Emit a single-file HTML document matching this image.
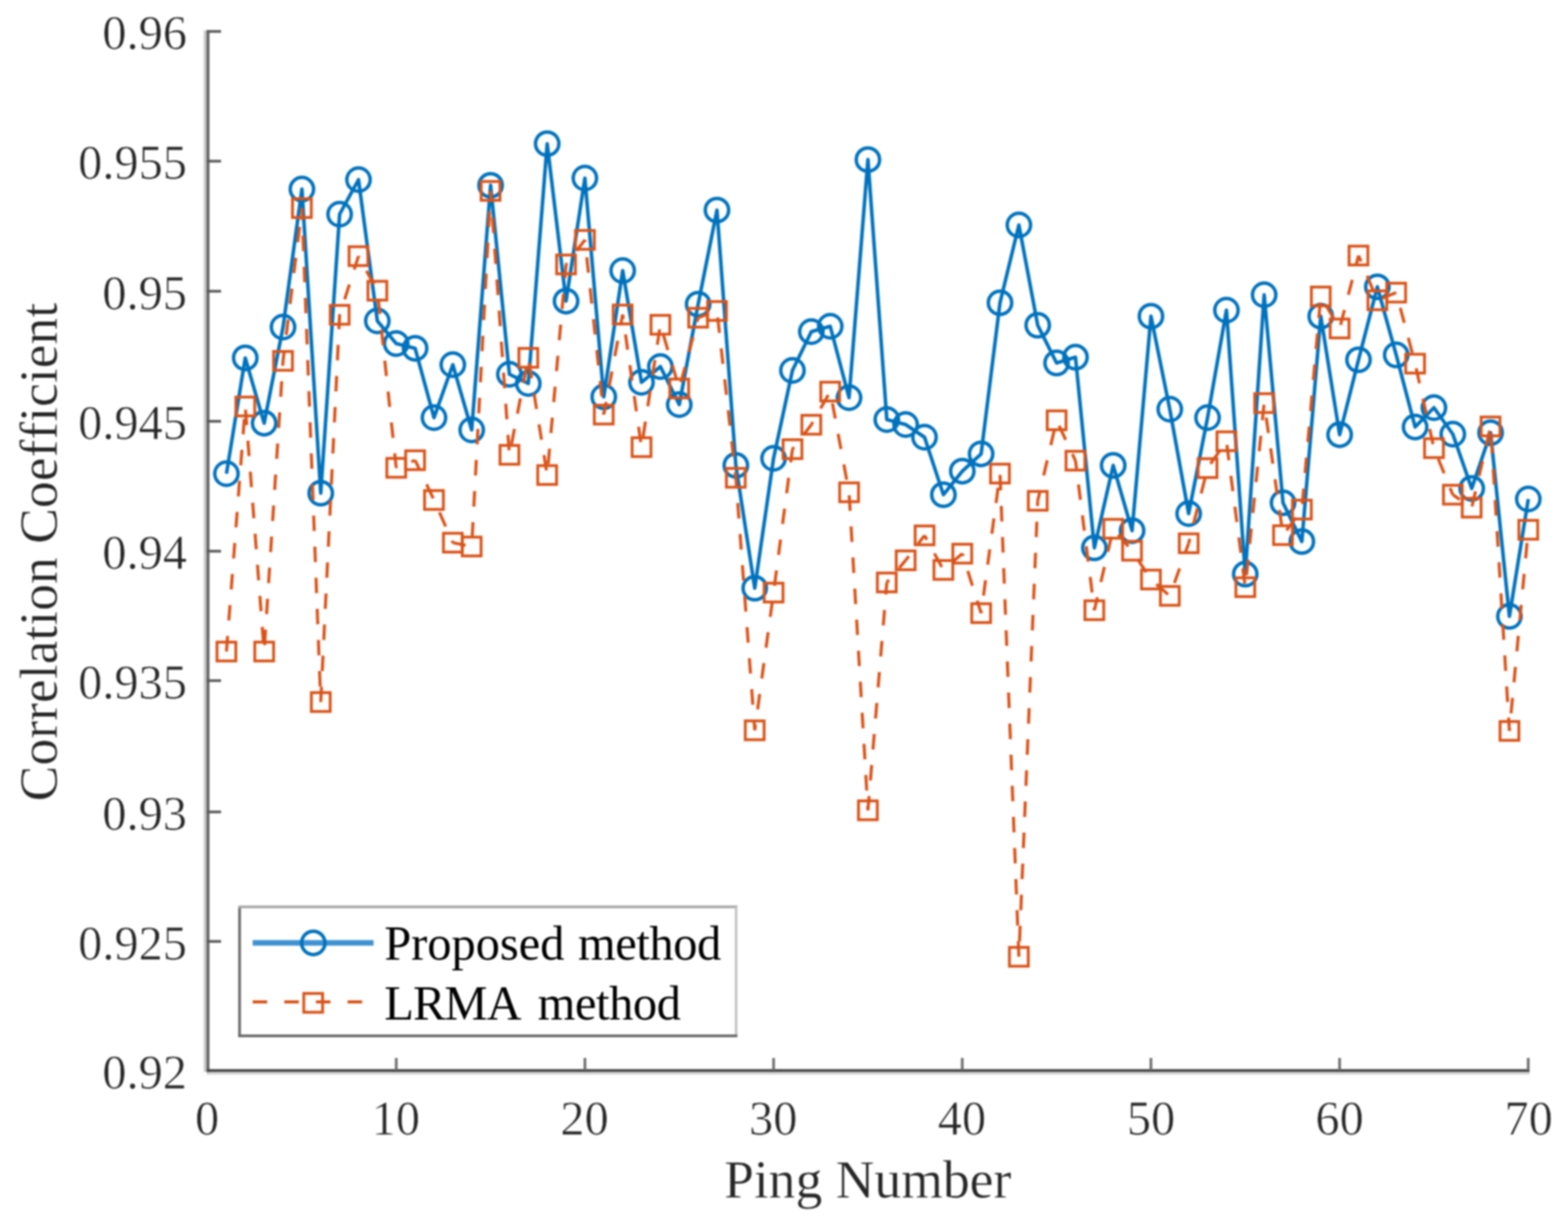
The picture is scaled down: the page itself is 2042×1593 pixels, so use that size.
<!DOCTYPE html>
<html lang="en">
<head>
<meta charset="utf-8">
<title>Correlation Coefficient vs Ping Number</title>
<style>
html,body{margin:0;padding:0;background:#fff;}
body{width:2042px;height:1593px;overflow:hidden;}
svg{display:block;filter:blur(0.9px);}
text{font-family:"Liberation Serif","DejaVu Serif",serif;font-variant-ligatures:none;font-kerning:none;}
.tick{font-size:63px;fill:#262626;stroke:#fff;stroke-width:0.7px;}
.lab{font-size:69.8px;fill:#262626;stroke:#fff;stroke-width:0.4px;}
.leg{font-size:63px;fill:#000;}
</style>
</head>
<body>
<svg width="2042" height="1593" viewBox="0 0 2042 1593">
<rect x="0" y="0" width="2042" height="1593" fill="#ffffff"/>
<g id="axes" fill="none">
<rect x="265.4" y="39.6" width="3.6" height="1356.6" fill="#c6c6c6"/>
<rect x="269" y="1396.1" width="1723" height="3.6" fill="#d3d3d3"/>
<rect x="269" y="39.6" width="3.8" height="1356.6" fill="#666666"/>
<rect x="269" y="1392.6" width="1723" height="3.6" fill="#444444"/>
<rect x="269" y="39.2" width="18.9" height="3.5" fill="#5a5a5a"/>
<rect x="269" y="208.2" width="18.9" height="3.5" fill="#5a5a5a"/>
<rect x="269" y="377.6" width="18.9" height="3.5" fill="#5a5a5a"/>
<rect x="269" y="547.0" width="18.9" height="3.5" fill="#5a5a5a"/>
<rect x="269" y="716.2" width="18.9" height="3.5" fill="#5a5a5a"/>
<rect x="269" y="884.8" width="18.9" height="3.5" fill="#5a5a5a"/>
<rect x="269" y="1055.8" width="18.9" height="3.5" fill="#5a5a5a"/>
<rect x="269" y="1224.5" width="18.9" height="3.5" fill="#5a5a5a"/>
<rect x="514.3" y="1378" width="3.5" height="16" fill="#6e6e6e"/>
<rect x="760.0" y="1378" width="3.5" height="16" fill="#6e6e6e"/>
<rect x="1005.7" y="1378" width="3.5" height="16" fill="#6e6e6e"/>
<rect x="1251.4" y="1378" width="3.5" height="16" fill="#6e6e6e"/>
<rect x="1497.1" y="1378" width="3.5" height="16" fill="#6e6e6e"/>
<rect x="1742.8" y="1378" width="3.5" height="16" fill="#6e6e6e"/>
<rect x="1988.5" y="1378" width="3.5" height="16" fill="#6e6e6e"/>
</g>
<g id="yticks" class="tick" text-anchor="end">
<text x="243.4" y="64.4">0.96</text>
<text x="243.4" y="233.4">0.955</text>
<text x="243.4" y="402.7">0.95</text>
<text x="243.4" y="572.2">0.945</text>
<text x="243.4" y="741.4">0.94</text>
<text x="243.4" y="909.9">0.935</text>
<text x="243.4" y="1080.9">0.93</text>
<text x="243.4" y="1249.7">0.925</text>
<text x="243.4" y="1417.7">0.92</text>
</g>
<g id="xticks" class="tick" text-anchor="middle">
<text x="269.8" y="1477.6">0</text>
<text x="515.5" y="1477.6">10</text>
<text x="761.2" y="1477.6">20</text>
<text x="1006.9" y="1477.6">30</text>
<text x="1252.7" y="1477.6">40</text>
<text x="1498.9" y="1477.6">50</text>
<text x="1744.4" y="1477.6">60</text>
<text x="1990.8" y="1477.6">70</text>
</g>
<text class="lab" text-anchor="middle" x="1130" y="1560">Ping Number</text>
<text class="lab" text-anchor="middle" transform="translate(73.8 719) rotate(-90)">Correlation Coefficient</text>
<g id="proposed" fill="none" stroke="#0072BD">
<polyline points="294.9,617.0 319.4,466.2 344.0,551.2 368.6,426.0 393.2,246.3 417.7,642.4 442.3,279.0 466.9,234.0 491.4,418.0 516.0,447.5 540.6,453.7 565.2,544.0 589.7,475.0 614.3,560.0 638.9,241.4 663.4,487.5 688.0,499.5 712.6,187.2 737.2,392.2 761.7,232.0 786.3,517.0 810.9,352.5 835.4,498.0 860.0,477.5 884.6,527.0 909.2,396.2 933.7,273.7 958.3,606.2 982.9,766.1 1007.4,597.0 1032.0,482.5 1056.6,432.0 1081.2,425.0 1105.7,518.0 1130.3,207.9 1154.9,546.5 1179.4,553.0 1204.0,569.5 1228.6,644.4 1253.2,613.7 1277.7,591.2 1302.3,394.4 1326.9,293.0 1351.4,423.6 1376.0,472.8 1400.6,465.3 1425.2,713.6 1449.7,606.2 1474.3,691.2 1498.9,411.9 1523.4,533.0 1548.0,669.0 1572.6,544.0 1597.2,404.0 1621.7,747.8 1646.3,384.0 1670.9,654.9 1695.4,705.4 1720.0,411.9 1744.6,566.2 1769.2,468.6 1793.7,373.6 1818.3,462.3 1842.9,556.2 1867.4,531.0 1892.0,565.5 1916.6,636.2 1941.2,563.7 1965.7,802.8 1990.3,650.0" stroke-width="4.6" stroke-linejoin="round"/>
<circle cx="294.9" cy="617.0" r="15.2" stroke-width="4.5"/>
<circle cx="319.4" cy="466.2" r="15.2" stroke-width="4.5"/>
<circle cx="344.0" cy="551.2" r="15.2" stroke-width="4.5"/>
<circle cx="368.6" cy="426.0" r="15.2" stroke-width="4.5"/>
<circle cx="393.2" cy="246.3" r="15.2" stroke-width="4.5"/>
<circle cx="417.7" cy="642.4" r="15.2" stroke-width="4.5"/>
<circle cx="442.3" cy="279.0" r="15.2" stroke-width="4.5"/>
<circle cx="466.9" cy="234.0" r="15.2" stroke-width="4.5"/>
<circle cx="491.4" cy="418.0" r="15.2" stroke-width="4.5"/>
<circle cx="516.0" cy="447.5" r="15.2" stroke-width="4.5"/>
<circle cx="540.6" cy="453.7" r="15.2" stroke-width="4.5"/>
<circle cx="565.2" cy="544.0" r="15.2" stroke-width="4.5"/>
<circle cx="589.7" cy="475.0" r="15.2" stroke-width="4.5"/>
<circle cx="614.3" cy="560.0" r="15.2" stroke-width="4.5"/>
<circle cx="638.9" cy="241.4" r="15.2" stroke-width="4.5"/>
<circle cx="663.4" cy="487.5" r="15.2" stroke-width="4.5"/>
<circle cx="688.0" cy="499.5" r="15.2" stroke-width="4.5"/>
<circle cx="712.6" cy="187.2" r="15.2" stroke-width="4.5"/>
<circle cx="737.2" cy="392.2" r="15.2" stroke-width="4.5"/>
<circle cx="761.7" cy="232.0" r="15.2" stroke-width="4.5"/>
<circle cx="786.3" cy="517.0" r="15.2" stroke-width="4.5"/>
<circle cx="810.9" cy="352.5" r="15.2" stroke-width="4.5"/>
<circle cx="835.4" cy="498.0" r="15.2" stroke-width="4.5"/>
<circle cx="860.0" cy="477.5" r="15.2" stroke-width="4.5"/>
<circle cx="884.6" cy="527.0" r="15.2" stroke-width="4.5"/>
<circle cx="909.2" cy="396.2" r="15.2" stroke-width="4.5"/>
<circle cx="933.7" cy="273.7" r="15.2" stroke-width="4.5"/>
<circle cx="958.3" cy="606.2" r="15.2" stroke-width="4.5"/>
<circle cx="982.9" cy="766.1" r="15.2" stroke-width="4.5"/>
<circle cx="1007.4" cy="597.0" r="15.2" stroke-width="4.5"/>
<circle cx="1032.0" cy="482.5" r="15.2" stroke-width="4.5"/>
<circle cx="1056.6" cy="432.0" r="15.2" stroke-width="4.5"/>
<circle cx="1081.2" cy="425.0" r="15.2" stroke-width="4.5"/>
<circle cx="1105.7" cy="518.0" r="15.2" stroke-width="4.5"/>
<circle cx="1130.3" cy="207.9" r="15.2" stroke-width="4.5"/>
<circle cx="1154.9" cy="546.5" r="15.2" stroke-width="4.5"/>
<circle cx="1179.4" cy="553.0" r="15.2" stroke-width="4.5"/>
<circle cx="1204.0" cy="569.5" r="15.2" stroke-width="4.5"/>
<circle cx="1228.6" cy="644.4" r="15.2" stroke-width="4.5"/>
<circle cx="1253.2" cy="613.7" r="15.2" stroke-width="4.5"/>
<circle cx="1277.7" cy="591.2" r="15.2" stroke-width="4.5"/>
<circle cx="1302.3" cy="394.4" r="15.2" stroke-width="4.5"/>
<circle cx="1326.9" cy="293.0" r="15.2" stroke-width="4.5"/>
<circle cx="1351.4" cy="423.6" r="15.2" stroke-width="4.5"/>
<circle cx="1376.0" cy="472.8" r="15.2" stroke-width="4.5"/>
<circle cx="1400.6" cy="465.3" r="15.2" stroke-width="4.5"/>
<circle cx="1425.2" cy="713.6" r="15.2" stroke-width="4.5"/>
<circle cx="1449.7" cy="606.2" r="15.2" stroke-width="4.5"/>
<circle cx="1474.3" cy="691.2" r="15.2" stroke-width="4.5"/>
<circle cx="1498.9" cy="411.9" r="15.2" stroke-width="4.5"/>
<circle cx="1523.4" cy="533.0" r="15.2" stroke-width="4.5"/>
<circle cx="1548.0" cy="669.0" r="15.2" stroke-width="4.5"/>
<circle cx="1572.6" cy="544.0" r="15.2" stroke-width="4.5"/>
<circle cx="1597.2" cy="404.0" r="15.2" stroke-width="4.5"/>
<circle cx="1621.7" cy="747.8" r="15.2" stroke-width="4.5"/>
<circle cx="1646.3" cy="384.0" r="15.2" stroke-width="4.5"/>
<circle cx="1670.9" cy="654.9" r="15.2" stroke-width="4.5"/>
<circle cx="1695.4" cy="705.4" r="15.2" stroke-width="4.5"/>
<circle cx="1720.0" cy="411.9" r="15.2" stroke-width="4.5"/>
<circle cx="1744.6" cy="566.2" r="15.2" stroke-width="4.5"/>
<circle cx="1769.2" cy="468.6" r="15.2" stroke-width="4.5"/>
<circle cx="1793.7" cy="373.6" r="15.2" stroke-width="4.5"/>
<circle cx="1818.3" cy="462.3" r="15.2" stroke-width="4.5"/>
<circle cx="1842.9" cy="556.2" r="15.2" stroke-width="4.5"/>
<circle cx="1867.4" cy="531.0" r="15.2" stroke-width="4.5"/>
<circle cx="1892.0" cy="565.5" r="15.2" stroke-width="4.5"/>
<circle cx="1916.6" cy="636.2" r="15.2" stroke-width="4.5"/>
<circle cx="1941.2" cy="563.7" r="15.2" stroke-width="4.5"/>
<circle cx="1965.7" cy="802.8" r="15.2" stroke-width="4.5"/>
<circle cx="1990.3" cy="650.0" r="15.2" stroke-width="4.5"/>
</g>
<g id="lrma" fill="none" stroke="#D95319">
<g stroke-width="4" stroke-dasharray="20.2 20.33">
<line x1="294.9" y1="848.6" x2="319.4" y2="529.5" stroke-dashoffset="0.0"/>
<line x1="319.4" y1="529.5" x2="344.0" y2="848.6" stroke-dashoffset="36.4"/>
<line x1="344.0" y1="848.6" x2="368.6" y2="470.0" stroke-dashoffset="32.3"/>
<line x1="368.6" y1="470.0" x2="393.2" y2="271.0" stroke-dashoffset="6.5"/>
<line x1="393.2" y1="271.0" x2="417.7" y2="914.5" stroke-dashoffset="4.5"/>
<line x1="417.7" y1="914.5" x2="442.3" y2="410.0" stroke-dashoffset="0.1"/>
<line x1="442.3" y1="410.0" x2="466.9" y2="333.7" stroke-dashoffset="19.3"/>
<line x1="466.9" y1="333.7" x2="491.4" y2="378.7" stroke-dashoffset="18.9"/>
<line x1="491.4" y1="378.7" x2="516.0" y2="609.4" stroke-dashoffset="30.1"/>
<line x1="516.0" y1="609.4" x2="540.6" y2="599.5" stroke-dashoffset="19.4"/>
<line x1="540.6" y1="599.5" x2="565.2" y2="651.2" stroke-dashoffset="5.8"/>
<line x1="565.2" y1="651.2" x2="589.7" y2="706.9" stroke-dashoffset="23.0"/>
<line x1="589.7" y1="706.9" x2="614.3" y2="711.9" stroke-dashoffset="3.3"/>
<line x1="614.3" y1="711.9" x2="638.9" y2="248.7" stroke-dashoffset="28.9"/>
<line x1="638.9" y1="248.7" x2="663.4" y2="592.5" stroke-dashoffset="5.8"/>
<line x1="663.4" y1="592.5" x2="688.0" y2="466.0" stroke-dashoffset="26.3"/>
<line x1="688.0" y1="466.0" x2="712.6" y2="618.7" stroke-dashoffset="33.7"/>
<line x1="712.6" y1="618.7" x2="737.2" y2="344.5" stroke-dashoffset="26.3"/>
<line x1="737.2" y1="344.5" x2="761.7" y2="312.5" stroke-dashoffset="17.9"/>
<line x1="761.7" y1="312.5" x2="786.3" y2="540.0" stroke-dashoffset="17.8"/>
<line x1="786.3" y1="540.0" x2="810.9" y2="409.7" stroke-dashoffset="3.5"/>
<line x1="810.9" y1="409.7" x2="835.4" y2="582.5" stroke-dashoffset="14.5"/>
<line x1="835.4" y1="582.5" x2="860.0" y2="423.0" stroke-dashoffset="27.0"/>
<line x1="860.0" y1="423.0" x2="884.6" y2="506.0" stroke-dashoffset="26.3"/>
<line x1="884.6" y1="506.0" x2="909.2" y2="413.8" stroke-dashoffset="31.9"/>
<line x1="909.2" y1="413.8" x2="933.7" y2="405.0" stroke-dashoffset="5.8"/>
<line x1="933.7" y1="405.0" x2="958.3" y2="622.4" stroke-dashoffset="31.9"/>
<line x1="958.3" y1="622.4" x2="982.9" y2="951.2" stroke-dashoffset="7.6"/>
<line x1="982.9" y1="951.2" x2="1007.4" y2="771.9" stroke-dashoffset="13.0"/>
<line x1="1007.4" y1="771.9" x2="1032.0" y2="585.0" stroke-dashoffset="31.5"/>
<line x1="1032.0" y1="585.0" x2="1056.6" y2="553.2" stroke-dashoffset="17.0"/>
<line x1="1056.6" y1="553.2" x2="1081.2" y2="510.0" stroke-dashoffset="16.2"/>
<line x1="1081.2" y1="510.0" x2="1105.7" y2="641.2" stroke-dashoffset="25.0"/>
<line x1="1105.7" y1="641.2" x2="1130.3" y2="1055.4" stroke-dashoffset="36.5"/>
<line x1="1130.3" y1="1055.4" x2="1154.9" y2="758.6" stroke-dashoffset="1.6"/>
<line x1="1154.9" y1="758.6" x2="1179.4" y2="729.9" stroke-dashoffset="15.9"/>
<line x1="1179.4" y1="729.9" x2="1204.0" y2="697.4" stroke-dashoffset="13.4"/>
<line x1="1204.0" y1="697.4" x2="1228.6" y2="742.4" stroke-dashoffset="13.8"/>
<line x1="1228.6" y1="742.4" x2="1253.2" y2="721.1" stroke-dashoffset="24.7"/>
<line x1="1253.2" y1="721.1" x2="1277.7" y2="798.6" stroke-dashoffset="16.9"/>
<line x1="1277.7" y1="798.6" x2="1302.3" y2="616.9" stroke-dashoffset="17.4"/>
<line x1="1302.3" y1="616.9" x2="1326.9" y2="1246.3" stroke-dashoffset="38.9"/>
<line x1="1326.9" y1="1246.3" x2="1351.4" y2="652.4" stroke-dashoffset="20.3"/>
<line x1="1351.4" y1="652.4" x2="1376.0" y2="547.5" stroke-dashoffset="6.4"/>
<line x1="1376.0" y1="547.5" x2="1400.6" y2="600.0" stroke-dashoffset="32.7"/>
<line x1="1400.6" y1="600.0" x2="1425.2" y2="794.9" stroke-dashoffset="9.3"/>
<line x1="1425.2" y1="794.9" x2="1449.7" y2="688.7" stroke-dashoffset="2.8"/>
<line x1="1449.7" y1="688.7" x2="1474.3" y2="717.4" stroke-dashoffset="30.4"/>
<line x1="1474.3" y1="717.4" x2="1498.9" y2="754.9" stroke-dashoffset="27.3"/>
<line x1="1498.9" y1="754.9" x2="1523.4" y2="776.1" stroke-dashoffset="31.3"/>
<line x1="1523.4" y1="776.1" x2="1548.0" y2="707.6" stroke-dashoffset="22.8"/>
<line x1="1548.0" y1="707.6" x2="1572.6" y2="609.7" stroke-dashoffset="14.2"/>
<line x1="1572.6" y1="609.7" x2="1597.2" y2="574.7" stroke-dashoffset="33.8"/>
<line x1="1597.2" y1="574.7" x2="1621.7" y2="764.9" stroke-dashoffset="35.7"/>
<line x1="1621.7" y1="764.9" x2="1646.3" y2="525.0" stroke-dashoffset="24.5"/>
<line x1="1646.3" y1="525.0" x2="1670.9" y2="697.0" stroke-dashoffset="21.4"/>
<line x1="1670.9" y1="697.0" x2="1695.4" y2="663.7" stroke-dashoffset="32.8"/>
<line x1="1695.4" y1="663.7" x2="1720.0" y2="386.1" stroke-dashoffset="33.3"/>
<line x1="1720.0" y1="386.1" x2="1744.6" y2="427.9" stroke-dashoffset="28.0"/>
<line x1="1744.6" y1="427.9" x2="1769.2" y2="332.9" stroke-dashoffset="35.7"/>
<line x1="1769.2" y1="332.9" x2="1793.7" y2="391.1" stroke-dashoffset="11.9"/>
<line x1="1793.7" y1="391.1" x2="1818.3" y2="381.1" stroke-dashoffset="34.3"/>
<line x1="1818.3" y1="381.1" x2="1842.9" y2="473.6" stroke-dashoffset="20.0"/>
<line x1="1842.9" y1="473.6" x2="1867.4" y2="583.7" stroke-dashoffset="34.3"/>
<line x1="1867.4" y1="583.7" x2="1892.0" y2="644.4" stroke-dashoffset="25.3"/>
<line x1="1892.0" y1="644.4" x2="1916.6" y2="661.2" stroke-dashoffset="9.4"/>
<line x1="1916.6" y1="661.2" x2="1941.2" y2="555.5" stroke-dashoffset="38.9"/>
<line x1="1941.2" y1="555.5" x2="1965.7" y2="952.0" stroke-dashoffset="25.5"/>
<line x1="1965.7" y1="952.0" x2="1990.3" y2="690.0" stroke-dashoffset="17.5"/>
</g>
<rect x="282.6" y="836.4" width="24.5" height="24.5" stroke-width="3.7"/>
<rect x="307.2" y="517.2" width="24.5" height="24.5" stroke-width="3.7"/>
<rect x="331.8" y="836.4" width="24.5" height="24.5" stroke-width="3.7"/>
<rect x="356.3" y="457.8" width="24.5" height="24.5" stroke-width="3.7"/>
<rect x="380.9" y="258.8" width="24.5" height="24.5" stroke-width="3.7"/>
<rect x="405.5" y="902.2" width="24.5" height="24.5" stroke-width="3.7"/>
<rect x="430.1" y="397.8" width="24.5" height="24.5" stroke-width="3.7"/>
<rect x="454.6" y="321.4" width="24.5" height="24.5" stroke-width="3.7"/>
<rect x="479.2" y="366.4" width="24.5" height="24.5" stroke-width="3.7"/>
<rect x="503.8" y="597.1" width="24.5" height="24.5" stroke-width="3.7"/>
<rect x="528.3" y="587.2" width="24.5" height="24.5" stroke-width="3.7"/>
<rect x="552.9" y="639.0" width="24.5" height="24.5" stroke-width="3.7"/>
<rect x="577.5" y="694.6" width="24.5" height="24.5" stroke-width="3.7"/>
<rect x="602.0" y="699.6" width="24.5" height="24.5" stroke-width="3.7"/>
<rect x="626.6" y="236.4" width="24.5" height="24.5" stroke-width="3.7"/>
<rect x="651.2" y="580.2" width="24.5" height="24.5" stroke-width="3.7"/>
<rect x="675.8" y="453.8" width="24.5" height="24.5" stroke-width="3.7"/>
<rect x="700.3" y="606.5" width="24.5" height="24.5" stroke-width="3.7"/>
<rect x="724.9" y="332.2" width="24.5" height="24.5" stroke-width="3.7"/>
<rect x="749.5" y="300.2" width="24.5" height="24.5" stroke-width="3.7"/>
<rect x="774.0" y="527.8" width="24.5" height="24.5" stroke-width="3.7"/>
<rect x="798.6" y="397.4" width="24.5" height="24.5" stroke-width="3.7"/>
<rect x="823.2" y="570.2" width="24.5" height="24.5" stroke-width="3.7"/>
<rect x="847.8" y="410.8" width="24.5" height="24.5" stroke-width="3.7"/>
<rect x="872.3" y="493.8" width="24.5" height="24.5" stroke-width="3.7"/>
<rect x="896.9" y="401.6" width="24.5" height="24.5" stroke-width="3.7"/>
<rect x="921.5" y="392.8" width="24.5" height="24.5" stroke-width="3.7"/>
<rect x="946.0" y="610.1" width="24.5" height="24.5" stroke-width="3.7"/>
<rect x="970.6" y="939.0" width="24.5" height="24.5" stroke-width="3.7"/>
<rect x="995.2" y="759.6" width="24.5" height="24.5" stroke-width="3.7"/>
<rect x="1019.8" y="572.8" width="24.5" height="24.5" stroke-width="3.7"/>
<rect x="1044.3" y="541.0" width="24.5" height="24.5" stroke-width="3.7"/>
<rect x="1068.9" y="497.8" width="24.5" height="24.5" stroke-width="3.7"/>
<rect x="1093.5" y="629.0" width="24.5" height="24.5" stroke-width="3.7"/>
<rect x="1118.0" y="1043.2" width="24.5" height="24.5" stroke-width="3.7"/>
<rect x="1142.6" y="746.4" width="24.5" height="24.5" stroke-width="3.7"/>
<rect x="1167.2" y="717.6" width="24.5" height="24.5" stroke-width="3.7"/>
<rect x="1191.8" y="685.1" width="24.5" height="24.5" stroke-width="3.7"/>
<rect x="1216.3" y="730.1" width="24.5" height="24.5" stroke-width="3.7"/>
<rect x="1240.9" y="708.9" width="24.5" height="24.5" stroke-width="3.7"/>
<rect x="1265.5" y="786.4" width="24.5" height="24.5" stroke-width="3.7"/>
<rect x="1290.0" y="604.6" width="24.5" height="24.5" stroke-width="3.7"/>
<rect x="1314.6" y="1234.0" width="24.5" height="24.5" stroke-width="3.7"/>
<rect x="1339.2" y="640.1" width="24.5" height="24.5" stroke-width="3.7"/>
<rect x="1363.8" y="535.2" width="24.5" height="24.5" stroke-width="3.7"/>
<rect x="1388.3" y="587.8" width="24.5" height="24.5" stroke-width="3.7"/>
<rect x="1412.9" y="782.6" width="24.5" height="24.5" stroke-width="3.7"/>
<rect x="1437.5" y="676.5" width="24.5" height="24.5" stroke-width="3.7"/>
<rect x="1462.0" y="705.1" width="24.5" height="24.5" stroke-width="3.7"/>
<rect x="1486.6" y="742.6" width="24.5" height="24.5" stroke-width="3.7"/>
<rect x="1511.2" y="763.9" width="24.5" height="24.5" stroke-width="3.7"/>
<rect x="1535.8" y="695.4" width="24.5" height="24.5" stroke-width="3.7"/>
<rect x="1560.3" y="597.5" width="24.5" height="24.5" stroke-width="3.7"/>
<rect x="1584.9" y="562.5" width="24.5" height="24.5" stroke-width="3.7"/>
<rect x="1609.5" y="752.6" width="24.5" height="24.5" stroke-width="3.7"/>
<rect x="1634.0" y="512.8" width="24.5" height="24.5" stroke-width="3.7"/>
<rect x="1658.6" y="684.8" width="24.5" height="24.5" stroke-width="3.7"/>
<rect x="1683.2" y="651.5" width="24.5" height="24.5" stroke-width="3.7"/>
<rect x="1707.8" y="373.9" width="24.5" height="24.5" stroke-width="3.7"/>
<rect x="1732.3" y="415.6" width="24.5" height="24.5" stroke-width="3.7"/>
<rect x="1756.9" y="320.6" width="24.5" height="24.5" stroke-width="3.7"/>
<rect x="1781.5" y="378.9" width="24.5" height="24.5" stroke-width="3.7"/>
<rect x="1806.0" y="368.9" width="24.5" height="24.5" stroke-width="3.7"/>
<rect x="1830.6" y="461.4" width="24.5" height="24.5" stroke-width="3.7"/>
<rect x="1855.2" y="571.5" width="24.5" height="24.5" stroke-width="3.7"/>
<rect x="1879.8" y="632.1" width="24.5" height="24.5" stroke-width="3.7"/>
<rect x="1904.3" y="649.0" width="24.5" height="24.5" stroke-width="3.7"/>
<rect x="1928.9" y="543.2" width="24.5" height="24.5" stroke-width="3.7"/>
<rect x="1953.5" y="939.8" width="24.5" height="24.5" stroke-width="3.7"/>
<rect x="1978.0" y="677.8" width="24.5" height="24.5" stroke-width="3.7"/>
</g>
<g id="legend">
<rect x="312" y="1181.2" width="646.6" height="168" fill="#ffffff" stroke="none"/>
<line x1="310.3" y1="1181.2" x2="960.3" y2="1181.2" stroke="#a6a6a6" stroke-width="3.4"/>
<line x1="958.6" y1="1181.2" x2="958.6" y2="1349.2" stroke="#c4c4c4" stroke-width="3.4"/>
<line x1="312" y1="1182.9" x2="312" y2="1350.9" stroke="#666666" stroke-width="3.4"/>
<line x1="310.3" y1="1349.2" x2="960.3" y2="1349.2" stroke="#666666" stroke-width="3.4"/>
<line x1="329" y1="1228.1" x2="486.5" y2="1228.1" stroke="#3f92d2" stroke-width="7.2"/>
<circle cx="408" cy="1228.2" r="15.2" fill="none" stroke="#0072BD" stroke-width="4.5"/>
<line x1="329" y1="1305" x2="486.5" y2="1305" stroke="#D95319" stroke-width="3.8" stroke-dasharray="19 22.2"/>
<rect x="395.6" y="1294.0" width="24.5" height="24.5" fill="none" stroke="#D95319" stroke-width="3.7"/>
<text class="leg" x="500.5" y="1250">Proposed <tspan dx="2" letter-spacing="-0.5">method</tspan></text>
<text class="leg" x="500.5" y="1328"><tspan letter-spacing="-1.1">LRMA</tspan> <tspan dx="6.3" letter-spacing="-0.5">method</tspan></text>
</g>
</svg>
</body>
</html>
